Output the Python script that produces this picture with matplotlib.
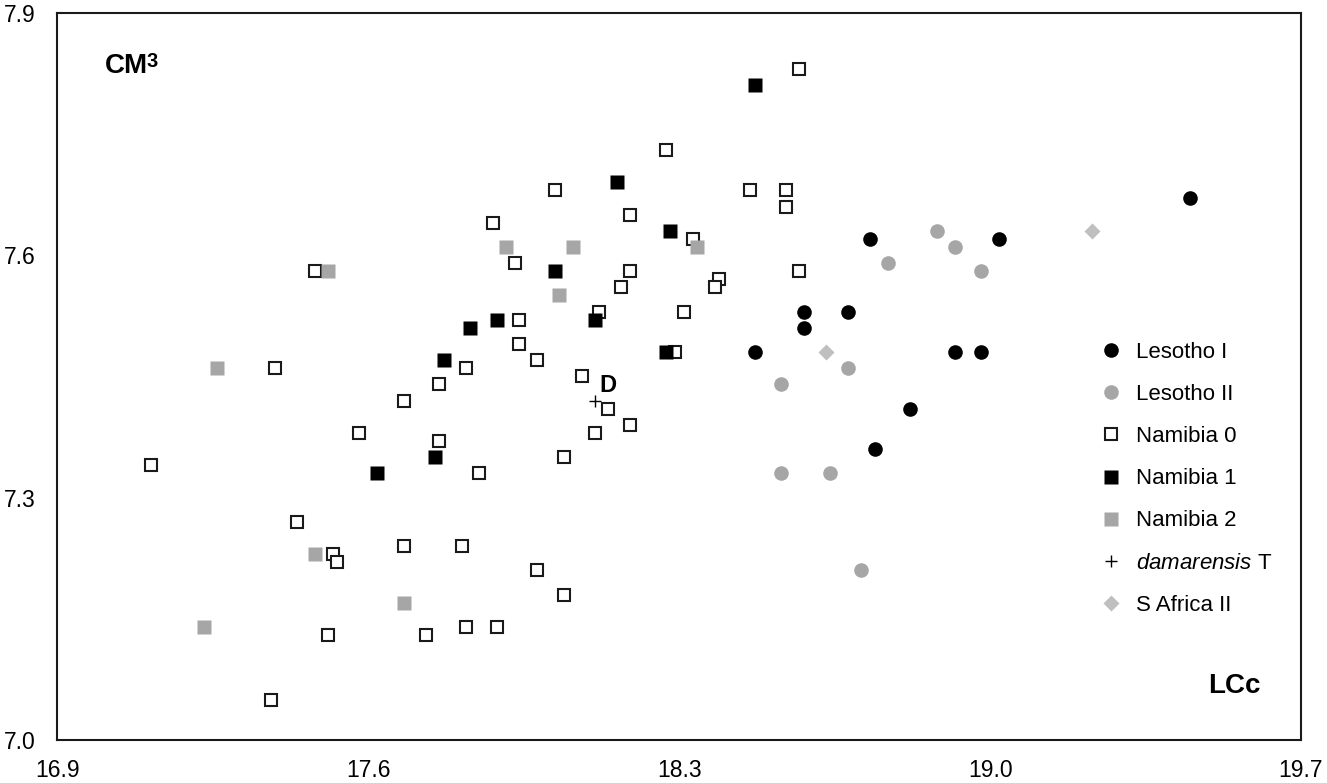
"""CM3 against LCc scatter, grey-scale groups"""
import matplotlib
matplotlib.use('Agg')
from matplotlib import pyplot as plt

plt.rcParams['font.family'] = ['Liberation Sans', 'DejaVu Sans']
plt.rcParams['mathtext.fontset'] = 'custom'
plt.rcParams['mathtext.rm'] = 'Liberation Sans'
plt.rcParams['mathtext.it'] = 'Liberation Sans:italic'

# Lesotho I
lesotho1_x = [19.45, 18.73, 19.02, 18.58, 18.58, 18.68, 18.47, 18.92, 18.98, 18.82, 18.74]
lesotho1_y = [7.67, 7.62, 7.62, 7.53, 7.51, 7.53, 7.48, 7.48, 7.48, 7.41, 7.36]

# Lesotho II
lesotho2_x = [18.88, 18.92, 18.77, 18.98, 18.53, 18.68, 18.53, 18.64, 18.71]
lesotho2_y = [7.63, 7.61, 7.59, 7.58, 7.44, 7.46, 7.33, 7.33, 7.21]

# Namibia 0
namibia0_x = [18.57, 18.27, 18.02, 18.46, 18.54, 18.54, 17.88, 18.19, 18.33, 17.93,
              18.19, 18.17, 18.39, 18.38, 18.57, 18.12, 18.31, 17.94, 17.94, 17.98,
              17.82, 17.76, 18.29, 18.08, 17.68, 18.14, 18.19, 18.11, 17.76, 18.04,
              17.85, 17.58, 17.11, 17.39, 17.48, 17.44, 17.52, 17.53, 17.68, 17.81,
              17.98, 18.04, 17.51, 17.73, 17.82, 17.89, 17.38]
namibia0_y = [7.83, 7.73, 7.68, 7.68, 7.68, 7.66, 7.64, 7.65, 7.62, 7.59,
              7.58, 7.56, 7.57, 7.56, 7.58, 7.53, 7.53, 7.52, 7.49, 7.47,
              7.46, 7.44, 7.48, 7.45, 7.42, 7.41, 7.39, 7.38, 7.37, 7.35,
              7.33, 7.38, 7.34, 7.46, 7.58, 7.27, 7.23, 7.22, 7.24, 7.24,
              7.21, 7.18, 7.13, 7.13, 7.14, 7.14, 7.05]

# Namibia 1
namibia1_x = [18.47, 18.16, 18.28, 18.02, 18.11, 17.89, 17.83, 17.77, 18.27, 17.75, 17.62]
namibia1_y = [7.81, 7.69, 7.63, 7.58, 7.52, 7.52, 7.51, 7.47, 7.48, 7.35, 7.33]

# Namibia 2
namibia2_x = [17.91, 18.06, 18.34, 18.03, 17.51, 17.26, 17.48, 17.68, 17.23]
namibia2_y = [7.61, 7.61, 7.61, 7.55, 7.58, 7.46, 7.23, 7.17, 7.14]

# damarensis type
damarensis_x = [18.11]
damarensis_y = [7.42]

# S Africa II
safrica2_x = [19.23, 18.63]
safrica2_y = [7.63, 7.48]

GREY = '#a6a6a6'
LIGHT = '#bfbfbf'


def plot():
    fig = plt.figure(figsize=(13.27, 7.83), dpi=100)
    ax = fig.add_axes([0.0433, 0.0549, 0.9371, 0.9291])

    ax.plot(lesotho1_x, lesotho1_y, 'o', ms=10.5, mfc='black', mec='none',
            label='Lesotho I')
    ax.plot(lesotho2_x, lesotho2_y, 'o', ms=10.5, mfc=GREY, mec='none',
            label='Lesotho II')
    ax.plot(namibia0_x, namibia0_y, 's', ms=9.2, mfc='white', mec='#1a1a1a',
            mew=1.5, label='Namibia 0')
    ax.plot(namibia1_x, namibia1_y, 's', ms=10.5, mfc='black', mec='none',
            label='Namibia 1')
    ax.plot(namibia2_x, namibia2_y, 's', ms=10.5, mfc=GREY, mec='none',
            label='Namibia 2')
    ax.plot(damarensis_x, damarensis_y, '+', ms=8.5, mec='black', mew=1.0,
            label=r'$\it{damarensis}$ T')
    ax.plot(safrica2_x, safrica2_y, 'D', ms=7.8, mfc=LIGHT, mec='none',
            label='S Africa II')

    ax.annotate('D', xy=(damarensis_x[0], damarensis_y[0]), xytext=(3, 6),
                textcoords='offset points', fontsize=17, fontweight='bold')

    # axis names inside the frame, CM with a raised 3
    cm = ax.text(0.0382, 0.9265, 'CM', transform=ax.transAxes, fontsize=20,
                 fontweight='bold', va='center', ha='left')
    ax.annotate('3', xy=(1, 1), xycoords=cm, xytext=(-1, 1),
                textcoords='offset points', fontsize=14.5, fontweight='bold',
                va='top', ha='left')
    ax.text(0.9678, 0.0742, 'LCc', transform=ax.transAxes, fontsize=20,
            fontweight='bold', va='center', ha='right')

    ax.set_xlim(16.9, 19.7)
    ax.set_ylim(7.0, 7.9)
    ax.set_xticks([16.9, 17.6, 18.3, 19.0, 19.7])
    ax.set_yticks([7.0, 7.3, 7.6, 7.9])
    ax.set_xticklabels(['16.9', '17.6', '18.3', '19.0', '19.7'])
    ax.set_yticklabels(['7.0', '7.3', '7.6', '7.9'])
    ax.tick_params(length=0, labelsize=16.5, pad=14)
    ax.tick_params(axis='y', pad=16)
    for s in ax.spines.values():
        s.set_linewidth(1.5)
        s.set_color('#1a1a1a')

    ax.legend(loc='upper left', bbox_to_anchor=(1097.7 / 1327, 1 - 342 / 783),
              bbox_transform=fig.transFigure, frameon=False, fontsize=16,
              borderpad=0, borderaxespad=0, handletextpad=0.52,
              handlelength=1.2, labelspacing=0.95, numpoints=1)

    fig.savefig('out.png', dpi=100)


if __name__ == '__main__':
    plot()
